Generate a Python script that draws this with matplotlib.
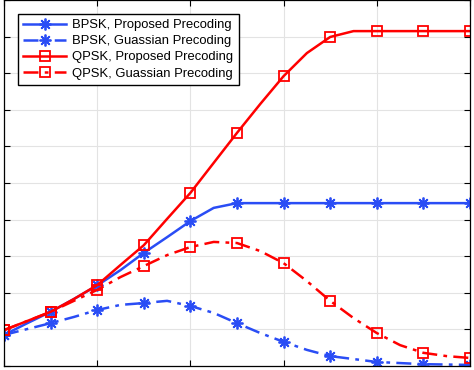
import matplotlib.pyplot as plt
import numpy as np

plt.rcParams['font.family'] = ['Liberation Sans', 'DejaVu Sans']

# x axis (cropped in the reference, no labels visible)
snr = np.arange(0, 21, 1)

# values, one point per step, markers every second point
bpsk_prop = [0.85, 1.17, 1.48, 1.83, 2.2, 2.62, 3.09, 3.52, 3.96, 4.32, 4.45,
             4.45, 4.45, 4.45, 4.45, 4.45, 4.45, 4.45, 4.45, 4.45, 4.45]
bpsk_gauss = [0.85, 1.01, 1.17, 1.34, 1.53, 1.67, 1.72, 1.78, 1.64, 1.45, 1.17,
              0.9, 0.66, 0.44, 0.27, 0.19, 0.11, 0.08, 0.05, 0.04, 0.03]
qpsk_prop = [0.98, 1.23, 1.48, 1.83, 2.21, 2.76, 3.3, 4.02, 4.73, 5.55, 6.37,
             7.16, 7.92, 8.55, 8.99, 9.15, 9.15, 9.15, 9.15, 9.15, 9.15]
qpsk_gauss = [0.98, 1.23, 1.48, 1.78, 2.08, 2.43, 2.73, 3.03, 3.25, 3.39, 3.36,
              3.14, 2.81, 2.32, 1.78, 1.31, 0.9, 0.57, 0.36, 0.27, 0.22]

labels = ['BPSK, Proposed Precoding', 'BPSK, Guassian Precoding',
          'QPSK, Proposed Precoding', 'QPSK, Guassian Precoding']

blue = '#2a4df5'
red = '#ff0000'
dashdot = (0, (6, 2.5, 1.5, 2.5))
star = (8, 2, 0)

fig = plt.figure(figsize=(4.74, 3.70), dpi=100)
ax = fig.add_axes([4 / 474, 4 / 370, 466 / 474, 366 / 370])

ax.plot(snr, bpsk_prop, color=blue, lw=1.8, marker=star, ms=8.5, mew=1.3,
        markevery=2, label=labels[0])
ax.plot(snr, bpsk_gauss, color=blue, lw=1.8, ls=dashdot, marker=star, ms=8.5, mew=1.3,
        markevery=2, label=labels[1])
ax.plot(snr, qpsk_prop, color=red, lw=1.8, marker='s', ms=6.5, mew=1.3, mfc='none',
        markevery=2, label=labels[2])
ax.plot(snr, qpsk_gauss, color=red, lw=1.8, ls=dashdot, marker='s', ms=6.5, mew=1.3,
        mfc='none', markevery=2, label=labels[3])

ax.set_xlim(0, 20)
ax.set_ylim(0, 10)
ax.set_xticks(np.arange(0, 21, 4))
ax.set_yticks(np.arange(0, 11, 1))
ax.tick_params(direction='in', top=True, right=True, length=4, width=0.8,
               labelbottom=False, labelleft=False)
ax.grid(True, color='#e3e3e3', lw=0.8)
ax.set_axisbelow(True)
for s in ax.spines.values():
    s.set_linewidth(0.9)

leg = ax.legend(loc='upper left', bbox_to_anchor=(18 / 474, 1 - 14 / 370),
                bbox_transform=fig.transFigure, borderaxespad=0,
                fontsize=9.4, handlelength=3.3, labelspacing=0.3,
                handletextpad=0.45, borderpad=0.4, fancybox=False,
                edgecolor='black', framealpha=1)
leg.get_frame().set_linewidth(1.0)

fig.savefig('out.png', dpi=100)
